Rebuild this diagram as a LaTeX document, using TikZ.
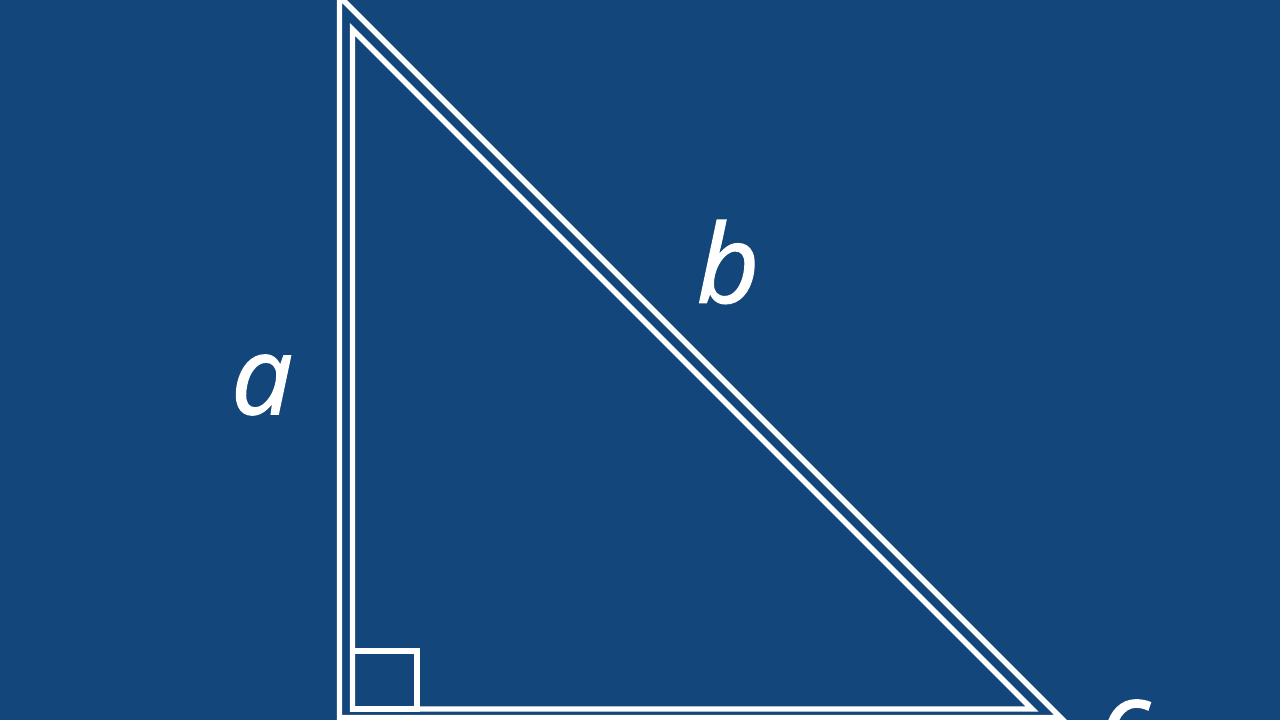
\documentclass[tikz,border=0pt]{standalone}
\usepackage{fontspec}
\setmainfont{Open Sans}
\newfontfamily\lblfont{Open Sans}[ItalicFeatures={FakeBold=1.2}]
\usepackage{tikz}
\usetikzlibrary{calc}
\definecolor{board}{HTML}{13467A}

\begin{document}
\begin{tikzpicture}[edge/.style={draw=white,line width=1.55pt,line join=miter},
  lbl/.style={text=white,font=\lblfont\fontsize{31}{36}\selectfont\itshape,inner sep=0pt}]
		\clip (0,0) rectangle (12.8,7.2);
		\fill[board] (0,0) rectangle (12.8,7.2);
		% outer triangle
		\coordinate (A)  at (3.395,7.235);
		\coordinate (B)  at (3.395,0.025);
		\coordinate (C)  at (10.605,0.025);
		% inner triangle
		\coordinate (A1) at (3.525,6.905);
		\coordinate (B1) at (3.525,0.11);
		\coordinate (C1) at (10.32,0.11);
		\coordinate (R)  at (4.17,0.69);

		\draw[edge] (A) -- (B) -- (C) -- cycle;
		\draw[edge] (A1) -- (B1) -- (C1) -- cycle;
		\draw[edge] (B1) rectangle (R);

		\node[lbl] (la) at (2.62,3.35)  {a};
		\node[lbl] (lb) at (7.28,4.58)  {b};
		\node[lbl] (lc) at (11.25,-0.1) {c};
\end{tikzpicture}
\end{document}
